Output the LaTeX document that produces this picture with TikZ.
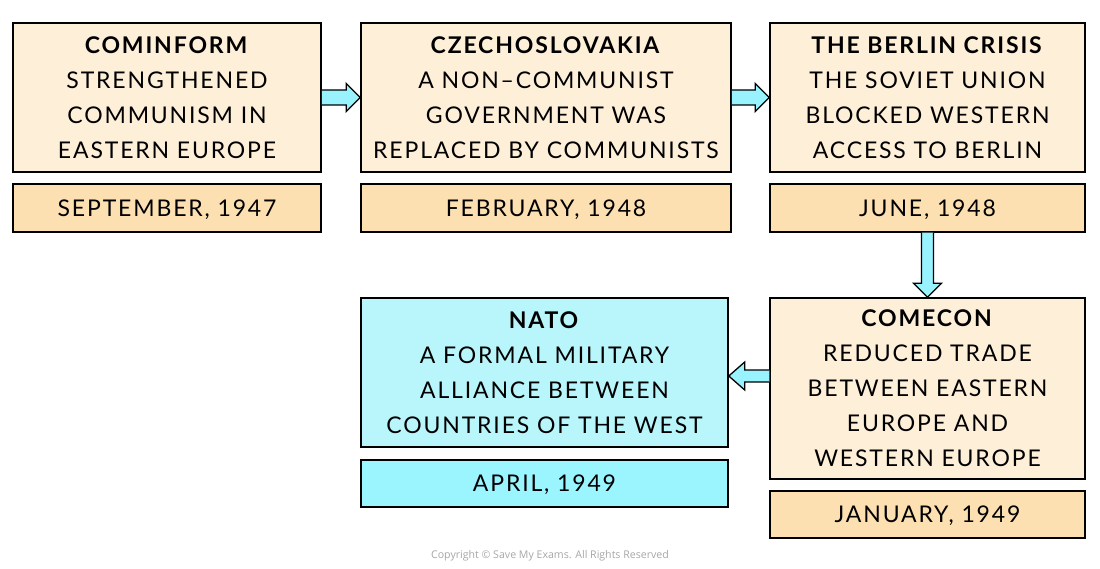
\documentclass[tikz,border=0pt]{standalone}
\usepackage{fontspec}
\setmainfont{Lato}[LetterSpace=8]
\newfontfamily\copyfont{Open Sans}
\usetikzlibrary{calc}
\definecolor{boxfill}{HTML}{FEEFD9}
\definecolor{datefill}{HTML}{FDE0B1}
\definecolor{natofill}{HTML}{B9F6FB}
\definecolor{natodate}{HTML}{9BF5FF}
\definecolor{arrfill}{HTML}{99F3FF}
\tikzset{
  evbox/.style={draw=black, line width=1.5pt, rectangle, inner sep=0pt, align=center,
    font=\fontsize{23}{35}\selectfont},
  datebox/.style={evbox, minimum height=48pt, fill=datefill, text height=16.5pt, text depth=0pt},
  blockarr/.style={draw=black, line width=1.3pt, fill=arrfill, line join=miter},
}
\newcommand{\ttl}[1]{\textbf{#1}}
\begin{document}
\begin{tikzpicture}[x=1pt,y=-1pt]
\useasboundingbox (0,0) rectangle (1100,569);
% event boxes
\node[evbox, fill=boxfill, minimum width=308pt, minimum height=149pt] (b1) at (167,97.5)
  {\ttl{COMINFORM}\\STRENGTHENED\\COMMUNISM IN\\EASTERN EUROPE};
\node[datebox, minimum width=308pt] (d1) at (167,208) {SEPTEMBER, 1947};
\node[evbox, fill=boxfill, minimum width=370pt, minimum height=149pt] (b2) at (546,97.5)
  {\ttl{CZECHOSLOVAKIA}\\A NON--COMMUNIST\\GOVERNMENT WAS\\REPLACED BY COMMUNISTS};
\node[datebox, minimum width=370pt] (d2) at (546,208) {FEBRUARY, 1948};
\node[evbox, fill=boxfill, minimum width=315pt, minimum height=149pt] (b3) at (927.5,97.5)
  {\ttl{THE BERLIN CRISIS}\\THE SOVIET UNION\\BLOCKED WESTERN\\ACCESS TO BERLIN};
\node[datebox, minimum width=315pt] (d3) at (927.5,208) {JUNE, 1948};
\node[evbox, fill=boxfill, minimum width=315pt, minimum height=181pt] (b4) at (927.5,388.5)
  {\ttl{COMECON}\\REDUCED TRADE\\BETWEEN EASTERN\\EUROPE AND\\WESTERN EUROPE};
\node[datebox, minimum width=315pt, minimum height=47pt] (d4) at (927.5,514.5) {JANUARY, 1949};
\node[evbox, fill=natofill, minimum width=367pt, minimum height=149pt] (b5) at (544.5,372.5)
  {\ttl{NATO}\\A FORMAL MILITARY\\ALLIANCE BETWEEN\\COUNTRIES OF THE WEST};
\node[datebox, fill=natodate, minimum width=367pt, minimum height=47pt] (d5) at (544.5,483.5) {APRIL, 1949};
% copyright
\node[font=\copyfont\fontsize{10.6}{12}\selectfont, text=black!35, inner sep=0pt] (cp) at (550,556)
  {Copyright \textcopyright{} Save My Exams. All Rights Reserved};
% arrows
\draw[blockarr] let \p1=(b1.east), \p2=(b2.west) in
  (\x1,\y1-7.5) -- (\x2-14,\y1-7.5) -- (\x2-14,\y1-14) -- (\x2,\y1) -- (\x2-14,\y1+14)
  -- (\x2-14,\y1+7.5) -- (\x1,\y1+7.5);
\draw[blockarr] let \p1=(b2.east), \p2=(b3.west) in
  (\x1,\y1-7.5) -- (\x2-14,\y1-7.5) -- (\x2-14,\y1-14) -- (\x2,\y1) -- (\x2-14,\y1+14)
  -- (\x2-14,\y1+7.5) -- (\x1,\y1+7.5);
\draw[blockarr] let \p1=(d3.south), \p2=(b4.north) in
  (\x1-6,\y1) -- (\x1-6,\y2+14) -- (\x1-14,\y2+14) -- (\x1,\y2) -- (\x1+14,\y2+14)
  -- (\x1+6,\y2+14) -- (\x1+6,\y1);
\coordinate (la) at ($(b4.west)+(0,-12.5)$);
\draw[blockarr] let \p1=(la), \p2=(b5.east) in
  (\x1,\y1-6) -- (\x2+16,\y1-6) -- (\x2+16,\y1-14) -- (\x2,\y1) -- (\x2+16,\y1+14)
  -- (\x2+16,\y1+6) -- (\x1,\y1+6);
\end{tikzpicture}
\end{document}
